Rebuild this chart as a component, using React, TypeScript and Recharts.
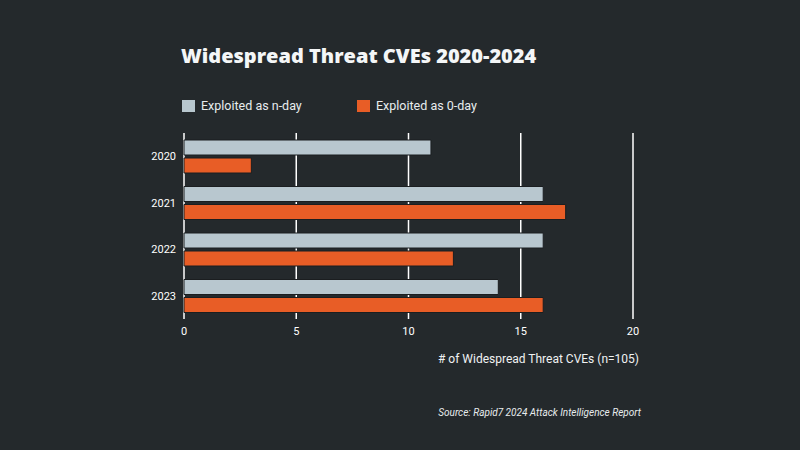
import React from 'react';
import { BarChart, Bar, XAxis, YAxis, CartesianGrid } from 'recharts';

const years = ['2020', '2021', '2022', '2023'];
const nDay = [11, 16, 16, 14];
const zeroDay = [3, 17, 12, 16];
const xTicks = [0, 5, 10, 15, 20];

const data = years.map((year, i) => ({ year, nDay: nDay[i], zeroDay: zeroDay[i] }));

const BG = '#24292c';
const GREY = '#b8c7cf';
const ORANGE = '#e85d26';

const legendItems = [
  { label: 'Exploited as n-day', color: GREY },
  { label: 'Exploited as 0-day', color: ORANGE },
];

export default function App() {
  return (
    <div style={{ position: 'fixed', left: 0, top: 0, width: 800, height: 450, background: BG, overflow: 'hidden' }}>
      <div
        style={{
          position: 'absolute',
          left: 181,
          top: 42,
          fontFamily: 'Open Sans',
          fontWeight: 800,
          fontSize: 20,
          color: '#f4f6f7',
          letterSpacing: 0,
        }}
      >
        Widespread Threat CVEs 2020-2024
      </div>
      <div
        style={{
          position: 'absolute',
          left: 182,
          top: 98,
          display: 'flex',
          fontFamily: 'Roboto',
          fontSize: 12.5,
          color: '#e8ecee',
        }}
      >
        {legendItems.map((item) => (
          <div key={item.label} style={{ display: 'flex', alignItems: 'center', width: 175 }}>
            <span style={{ width: 13, height: 12, background: item.color, marginRight: 6, display: 'inline-block' }} />
            {item.label}
          </div>
        ))}
      </div>
      <BarChart
        width={800}
        height={450}
        data={data}
        layout="vertical"
        margin={{ top: 133, right: 167, bottom: 101, left: 144 }}
        barSize={15}
        barGap={3}
      >
        <CartesianGrid horizontal={false} stroke="#ffffff" strokeWidth={1.5} verticalValues={xTicks} />
        <XAxis
          type="number"
          domain={[0, 20]}
          ticks={xTicks}
          axisLine={false}
          tickLine={false}
          height={30}
          tick={{ fill: '#ffffff', fontSize: 11, fontFamily: 'Roboto' }}
        />
        <YAxis
          type="category"
          dataKey="year"
          width={40}
          axisLine={false}
          tickLine={false}
          tick={{ fill: '#ffffff', fontSize: 11, fontFamily: 'Roboto' }}
        />
        <Bar dataKey="nDay" fill={GREY} stroke="#1b1e20" strokeWidth={1} isAnimationActive={false} />
        <Bar dataKey="zeroDay" fill={ORANGE} stroke="#1b1e20" strokeWidth={1} isAnimationActive={false} />
      </BarChart>
      <div
        style={{
          position: 'absolute',
          right: 161,
          top: 352,
          fontFamily: 'Roboto',
          fontSize: 12,
          color: '#f0f2f3',
        }}
      >
        # of Widespread Threat CVEs (n=105)
      </div>
      <div
        style={{
          position: 'absolute',
          right: 159,
          top: 407,
          fontFamily: 'Roboto',
          fontStyle: 'italic',
          fontSize: 10,
          color: '#e8ecee',
        }}
      >
        Source: Rapid7 2024 Attack Intelligence Report
      </div>
    </div>
  );
}
